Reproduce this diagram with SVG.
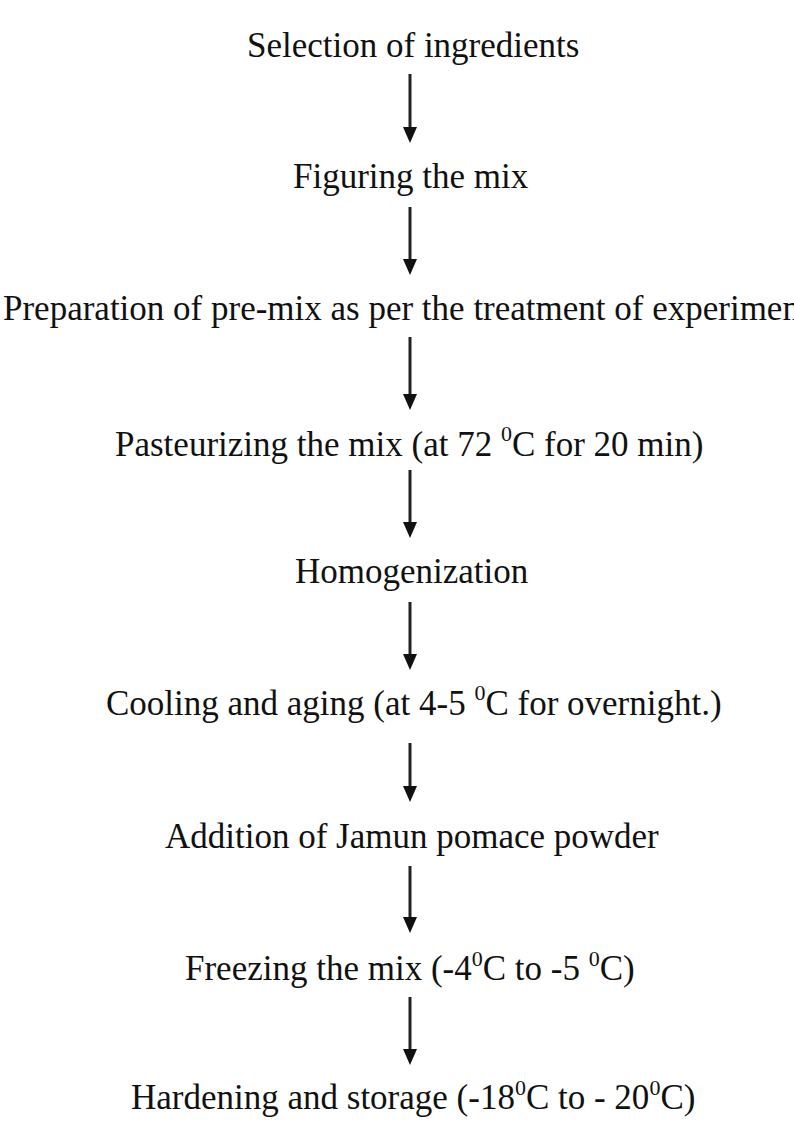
<svg xmlns="http://www.w3.org/2000/svg" width="794" height="1146" viewBox="0 0 794 1146">
<style>
text{font-family:"Liberation Serif","Times New Roman",serif;font-size:35px;fill:#111}
.sup{font-size:22px}
.c{stroke:#222;stroke-width:3;fill:none}
.h{fill:#111}
</style>
<rect width="794" height="1146" fill="#fff"/>
<g id="n1"><text x="247" y="57">Selection of ingredients</text></g>
<g id="n2"><text x="293" y="188">Figuring the mix</text></g>
<g id="n3"><text x="3" y="320">Preparation of pre-mix as per the treatment of experiment</text></g>
<g id="n4"><text x="115" y="456">Pasteurizing the mix (at 72 <tspan class="sup" dy="-15">0</tspan><tspan dy="15">C for 20 min)</tspan></text></g>
<g id="n5"><text x="295" y="583">Homogenization</text></g>
<g id="n6"><text x="106" y="715">Cooling and aging (at 4-5 <tspan class="sup" dy="-15">0</tspan><tspan dy="15">C for overnight.)</tspan></text></g>
<g id="n7"><text x="165" y="848">Addition of Jamun pomace powder</text></g>
<g id="n8"><text x="185" y="980">Freezing the mix (-4<tspan class="sup" dy="-14">0</tspan><tspan dy="14">C to -5 </tspan><tspan class="sup" dy="-14">0</tspan><tspan dy="14">C)</tspan></text></g>
<g id="n9"><text x="131" y="1109">Hardening and storage (-18<tspan class="sup" dy="-14">0</tspan><tspan dy="14">C to - 20</tspan><tspan class="sup" dy="-14">0</tspan><tspan dy="14">C)</tspan></text></g>
<g id="connectors">
<path class="c" d="M410,74 V130"/><path class="h" d="M403,127 L417,127 L410,143 Z"/>
<path class="c" d="M410,207 V262"/><path class="h" d="M403,259 L417,259 L410,275 Z"/>
<path class="c" d="M410,337 V397"/><path class="h" d="M403,394 L417,394 L410,410 Z"/>
<path class="c" d="M410,470 V525"/><path class="h" d="M403,522 L417,522 L410,538 Z"/>
<path class="c" d="M410,602 V657"/><path class="h" d="M403,654 L417,654 L410,670 Z"/>
<path class="c" d="M410,743 V789"/><path class="h" d="M403,786 L417,786 L410,802 Z"/>
<path class="c" d="M410,866 V920"/><path class="h" d="M403,917 L417,917 L410,933 Z"/>
<path class="c" d="M410,997 V1052"/><path class="h" d="M403,1049 L417,1049 L410,1065 Z"/>
</g>
</svg>
